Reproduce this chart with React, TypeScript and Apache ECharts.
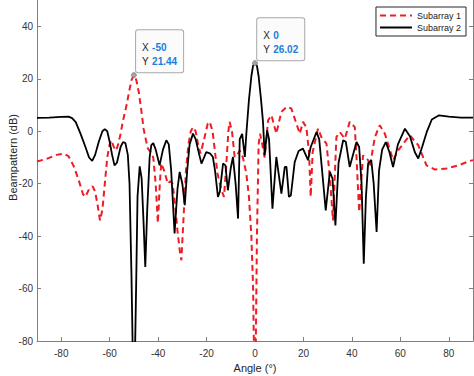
import React, { useEffect, useRef } from "react";
import * as echarts from "echarts";

// Subarray 1 (red dashed) — angle (deg) and beampattern (dB)
const sub1Angles = [
  -90, -86, -82, -79, -77, -75, -73, -71, -70, -68.5, -67, -66, -65, -64, -63, -62, -61, -60,
  -59.3, -58.3, -57.3, -56.5, -55.5, -54.5, -53, -52, -51, -50, -49, -48, -47, -46, -45, -44.2,
  -43, -42, -41, -40.1, -39.3, -38.7, -37.5, -36, -35, -34, -33, -32, -31, -30.4, -29.5, -28.5,
  -27.5, -26.5, -25.6, -24.5, -23.5, -22.5, -21, -19.5, -18.7, -17.5, -16.5, -15.5, -14, -12.8,
  -12, -11, -10.5, -9.5, -8.4, -7.3, -6.3, -5, -3.6, -2.5, -1.5, -0.8, 0, 0.8, 1.5, 2.1, 3, 4,
  5.4, 6.8, 8.8, 10.9, 13, 15, 17.1, 18.5, 19.8, 21.2, 22.3, 23, 23.8, 26, 27.4, 29.5, 30.9,
  32.2, 33.6, 35, 37.1, 39.1, 41.2, 41.9, 43, 44.6, 46.7, 47.4, 49.5, 51.5, 53.6, 57, 59.1, 63.9,
  67.4, 70.8, 74.3, 79.1, 84, 88.7, 90,
];
const sub1Values = [
  -11.5, -10.5, -9, -8.5, -9.5, -13, -18, -24, -25, -22, -21, -23, -28, -34, -30, -20, -10, -5,
  -3.4, -6, -7.3, -5, -1, 4, 10, 15, 19.5, 21.44, 19.5, 15, 8.5, 1, -3.4, -6.6,
  -8, -10, -20, -35, -20, -12.2, -15, -20, -19, -20, -28, -38, -46, -49.2, -33, -15,
  -5, 0, 1.6, 0, -5, -8.5, -3, 3, 3.6, 0, -8, -16, -22, -25,
  -15, 0, 3.6, 0, -9.8, -9, -7.3, -10, -16, -25, -40, -59, -110, -40, -5, -0.9, -5, -10,
  4.2, 6.1, -0.9, 7.4, 9.3, 8.7, 2.9, -0.9, 3.6, 1.6, -8, -25, -8, 1, -2.2, -4.7, -17.4,
  -34, -2.2, -0.3, -2.8, 3.6, 1.6, -9.8, -30.8, -9.2, -11, -13.6, -2.2, 2.3, -0.9, -11, -7.3, -1.5,
  -5.3, -13, -14.6, -14.2, -13, -11.3, -11,
];

// Subarray 2 (black solid)
const sub2Angles = [
  -90, -85, -80, -77, -75.5, -74, -72, -70, -68.5, -67.2, -66, -64.5, -63, -62, -61, -60, -59, -58,
  -57, -55.5, -54.5, -53.5, -52.5, -51.8, -51, -50, -49, -48.5, -47.6, -46.8, -46, -45.3, -44.5,
  -43.5, -42.8, -42, -41, -39.4, -38, -36.6, -35.6, -34.6, -33.2, -32, -31.1, -30, -29, -28, -27,
  -25.6, -24.5, -23, -22.1, -20.1, -18.5, -17.4, -16.5, -15.3, -14.5, -13.2, -12.2, -11.2, -10,
  -9.1, -8, -7, -6.3, -5.3, -4.2, -3.5, -2.5, -1.5, -0.8, 0, 0.8, 1.5, 2.5, 3.3, 4, 5, 5.8, 7.2,
  8.8, 10.9, 12.3, 13, 14, 14.8, 16.4, 18, 19.8, 21.9, 23, 25.4, 26.5, 27.5, 29.2, 30.9, 32, 33.2,
  34.5, 36.4, 37.5, 39.1, 41.9, 43, 44, 44.9, 45.8, 46.7, 48, 49, 50.2, 51.2, 52.5, 54, 55.5, 57,
  59, 61.9, 64, 66, 67.4, 69, 71, 73, 76, 80, 85, 90,
];
const sub2Values = [
  5.1, 5.2, 5.5, 5.6, 5.0, 3.5, -1, -6, -10, -11.3, -9, -4, 0, 0.8, 0, -4, -9, -13,
  -12, -6, -4.1, -4.5, -9, -20, -55, -110, -55, -25, -13.4, -18, -35, -51.8, -30,
  -10, -5.3, -4.5, -7, -13, -7, -3.4, -5, -15, -39, -22, -15.5, -20, -28.2, -15, -5,
  -0.9, -3, -9, -12.3, -7.9, -8.5, -9.8, -15, -25, -23, -12.3, -13, -22.5, -14,
  -9.8, -20, -33.3, -3, -1, -9.8, 0, 12, 21, 25, 26.02, 25, 21, 12, 3.6, -9.2, 0.4, -3, -29.5,
  -9.8, -23.8, -13.6, -13.6, -25, -24.5, -11.7, -7.5, -6.6, -11, -6, -0.3, -3, -13, -30.2, -15.5, -18, -35.9,
  -12, -3.4, -4, -13.6, -4.1, -6, -20, -50.5, -25, -12.3, -11, -20, -38.4, -15, -7, -4.1, -8, -13.6,
  -5, 1, -2, -8, -10.4, -6, 0, 4.5, 6.1, 5.6, 5.2, 5.2,
];

const seriesNames = ["Subarray 1", "Subarray 2"];
const tipsX = [-50, 0];
const tipsY = [21.44, 26.02];
const yTickMin = -80;
const yTickMax = 60;

const FONT = "'Liberation Sans', Arial, Helvetica, sans-serif";

function pairs(xs: number[], ys: number[]) {
  return xs.map((x, i) => [x, ys[i]]);
}

function tip(i: number) {
  return {
    symbol: "circle",
    symbolSize: 5,
    itemStyle: { color: "#a3a3a3", borderColor: "#6f6f6f", borderWidth: 0.6 },
    label: {
      show: true,
      position: [5, -42],
      formatter: `{k|X} {v|${tipsX[i]}}\n{k|Y} {v|${tipsY[i].toFixed(2)}}`,
      backgroundColor: "#fbfbfb",
      borderColor: "#a8a8a8",
      borderWidth: 1,
      borderRadius: 2,
      padding: [10, 6, 4, 6],
      lineHeight: 14,
      fontFamily: FONT,
      rich: {
        k: { color: "#262626", fontSize: 10, lineHeight: 14, fontFamily: FONT },
        v: { color: "#1a7fd8", fontSize: 10, fontWeight: "bold", lineHeight: 14, fontFamily: FONT },
      },
    },
    data: [{ coord: [tipsX[i], tipsY[i]] }],
  };
}

export default function App() {
  const ref = useRef<HTMLDivElement>(null);
  useEffect(() => {
    if (!ref.current) return;
    const chart = echarts.init(ref.current, undefined, { renderer: "svg" });
    const axisColor = "#7f7f7f";
    const option: any = {
      animation: false,
      textStyle: { fontFamily: FONT },
      grid: { left: 37, right: 1, top: -26, bottom: 35, containLabel: false, outerBoundsMode: "none" },
      legend: {
        orient: "vertical",
        right: 8,
        top: 7,
        backgroundColor: "#ffffff",
        borderColor: "#262626",
        borderWidth: 1,
        borderRadius: 0,
        padding: [4, 5, 4, 3],
        itemGap: 3,
        itemWidth: 32,
        itemHeight: 10,
        itemStyle: { opacity: 0 },
        textStyle: { fontSize: 9, color: "#222", fontFamily: FONT },
        data: seriesNames,
      },
      xAxis: [
        {
          type: "value",
          min: -90,
          max: 90,
          splitNumber: 9,
          name: "Angle (°)",
          nameLocation: "middle",
          nameGap: 21,
          nameMoveOverlap: false,
          nameTextStyle: { fontSize: 11, color: "#262626", fontFamily: FONT },
          axisLine: { onZero: false, lineStyle: { color: axisColor, width: 1 } },
          axisTick: { inside: true, length: 4, lineStyle: { color: axisColor } },
          axisLabel: {
            color: "#333",
            fontSize: 10,
            margin: 7,
            showMinLabel: false,
            showMaxLabel: false,
            formatter: (v: number) => (Math.abs(v) >= 90 ? "" : String(v)),
          },
          splitLine: { show: false },
        },
      ],
      yAxis: [
        {
          type: "value",
          min: yTickMin,
          max: yTickMax,
          interval: 20,
          name: "Beampattern (dB)",
          nameLocation: "middle",
          nameGap: 19,
          nameMoveOverlap: false,
          nameTextStyle: { fontSize: 11, color: "#262626", fontFamily: FONT },
          axisLine: { show: true, onZero: false, lineStyle: { color: axisColor, width: 1 } },
          axisTick: { show: true, inside: true, length: 4, lineStyle: { color: axisColor } },
          axisLabel: {
            color: "#333",
            fontSize: 10,
            margin: 4,
            formatter: (v: number) => (v > 50 ? "" : String(v)),
          },
          splitLine: { show: false },
        },
        {
          type: "value",
          position: "right",
          min: yTickMin,
          max: yTickMax,
          interval: 20,
          axisLine: { show: true, onZero: false, lineStyle: { color: axisColor, width: 1 } },
          axisTick: { show: true, inside: true, length: 4, lineStyle: { color: axisColor } },
          axisLabel: { show: false },
          splitLine: { show: false },
        },
      ],
      series: [
        {
          name: seriesNames[0],
          type: "line",
          symbol: "none",
          clip: true,
          data: pairs(sub1Angles, sub1Values),
          lineStyle: { color: "#ee1c25", width: 2, type: [6, 4] },
          itemStyle: { color: "#ee1c25" },
          markPoint: tip(0),
          z: 2,
        },
        {
          name: seriesNames[1],
          type: "line",
          symbol: "none",
          clip: true,
          data: pairs(sub2Angles, sub2Values),
          lineStyle: { color: "#000000", width: 1.8 },
          itemStyle: { color: "#000000" },
          markPoint: tip(1),
          z: 3,
        },
      ],
    };
    chart.setOption(option);
    return () => chart.dispose();
  }, []);
  return (
    <div
      ref={ref}
      style={{ position: "fixed", left: 0, top: 0, width: 474, height: 376, background: "#fff" }}
    />
  );
}
